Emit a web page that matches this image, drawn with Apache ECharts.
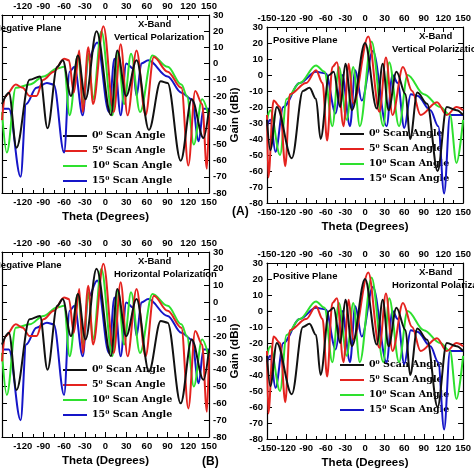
<!DOCTYPE html><html><head><meta charset="utf-8"><script src="https://cdn.jsdelivr.net/npm/echarts@6/dist/echarts.min.js"></script>
<style>html,body{margin:0;padding:0;background:#fff}#c{width:474px;height:474px}</style></head><body><div id="c"></div><script>
const names=['0⁰ Scan Angle','5⁰ Scan Angle','10⁰ Scan Angle','15⁰ Scan Angle'];
const colors=['#111','#e4231f','#2ee02e','#1515c8'];
const xTicks=[-150,-120,-90,-60,-30,0,30,60,90,120,150];
const negBlack=[[-150,-25],[-140,-18],[-129,-52],[-110,-10],[-95,-8],[-84,-40],[-70,-2],[-62,2],[-50,-20],[-40,5],[-29,-22],[-13,20],[8,-32],[17,8],[30,-20],[45,2],[63,-41],[80,-11],[90,-12],[109,-60],[125,-22],[142,-46],[150,-28]];
const negRed=[[-150,-35],[-145,-20],[-130,-13],[-120,-15],[-110,-20],[-100,-20],[-90,-10],[-75,-5],[-60,3],[-53,2],[-46,-18],[-38,8],[-33,-30],[-25,10],[-18,-25],[-3,23],[12,-30],[22,12],[32,-32],[45,8],[58,-32],[70,4],[90,-5],[110,-15],[120,-63],[130,-17],[140,-25],[147,-65],[150,-30]];
const negGreen=[[-150,-30],[-143,-55],[-130,-15],[-110,-13],[-90,-8],[-70,-3],[-60,-2],[-52,-32],[-40,5],[-32,-25],[-25,6],[-18,-22],[-6,20],[10,-32],[18,7],[27,-25],[37,6],[50,-30],[68,5],[90,-2],[110,-13],[118,-20],[128,-50],[140,-22],[150,-33]];
const negBlue=[[-150,-28],[-140,-28],[-123,-70],[-115,-25],[-100,-15],[-85,-12],[-75,-13],[-60,-55],[-52,-5],[-45,-2],[-33,-32],[-25,3],[-12,13],[5,-30],[13,3],[22,-32],[30,0],[40,-3],[45,-20],[52,0],[62,2],[90,-8],[110,-18],[125,-22],[135,-48],[142,-28],[150,-28]];
const posBlack=[[-150,-28],[-145,-47],[-135,-20],[-112,-52],[-95,-10],[-85,-8],[-75,-15],[-68,-40],[-55,0],[-48,2],[-38,-20],[-30,7],[-20,-22],[0,20],[18,-21],[27,7],[36,-22],[48,2],[62,-12],[69,-40],[80,-11],[95,-18],[111,-60],[125,-20],[140,-22],[150,-25]];
const posRed=[[-150,-25],[-148,-64],[-140,-16],[-130,-20],[-122,-57],[-115,-12],[-90,-5],[-75,3],[-65,-5],[-58,-41],[-50,5],[-43,8],[-33,-32],[-25,7],[-18,-18],[5,24],[22,-23],[32,11],[42,-25],[58,5],[72,-10],[85,-25],[110,-17],[125,-25],[140,-20],[150,-22]];
const posGreen=[[-150,-28],[-145,-22],[-130,-50],[-120,-15],[-100,-5],[-75,6],[-62,2],[-50,-32],[-40,5],[-28,-28],[-18,5],[-8,-32],[10,21],[28,-32],[37,8],[52,-32],[65,0],[90,-12],[115,-20],[130,-25],[140,-55],[150,-28]];
const posBlue=[[-150,-32],[-145,-28],[-137,-48],[-125,-20],[-100,-5],[-75,2],[-60,1],[-45,-24],[-35,0],[-23,-32],[-15,3],[-5,-16],[12,15],[33,-32],[42,0],[50,-5],[60,-33],[70,-12],[80,-13],[100,-22],[112,-32],[121,-74],[130,-25],[150,-25]];
const negSets=[negBlack,negRed,negGreen,negBlue], posSets=[posBlack,posRed,posGreen,posBlue];
const panels=[
 {g:{left:2,top:15,width:207,height:178},sets:negSets,yRight:true,plane:'Negative Plane',pol:'Vertical Polarization',leg:{left:58,top:126}},
 {g:{left:267,top:27,width:222,height:176},sets:posSets,yRight:false,plane:'Positive Plane',pol:'Vertical Polarization',leg:{left:335,top:124}},
 {g:{left:2,top:252,width:207,height:185},sets:negSets,yRight:true,plane:'Negative Plane',pol:'Horizontal Polarization',leg:{left:58,top:360}},
 {g:{left:267,top:263,width:222,height:176},sets:posSets,yRight:false,plane:'Positive Plane',pol:'Horizontal Polarization',leg:{left:335,top:355}}];
const lab={color:'#000',fontSize:9.5,fontWeight:'bold',fontFamily:'Liberation Sans'};
const grid=[],xAxis=[],yAxis=[],series=[],legend=[],graphic=[];
panels.forEach((p,i)=>{
 grid.push(p.g);
 const ax={type:'value',min:-150,max:150,interval:30,gridIndex:i,axisLine:{onZero:false,lineStyle:{color:'#000',width:1.2}},axisTick:{inside:true,lineStyle:{color:'#000'}},minorTick:{show:true,splitNumber:2},splitLine:{show:false},axisLabel:Object.assign({margin:4,showMinLabel:!p.yRight,showMaxLabel:true},lab)};
 xAxis.push(Object.assign({},ax,{position:'bottom',name:'Theta (Degrees)',nameLocation:'middle',nameGap:18,nameTextStyle:{fontSize:11.5,fontWeight:'bold',fontFamily:'Liberation Sans',color:'#000'}}));
 xAxis.push(Object.assign({},ax,{position:'top'}));
 const ya={type:'value',min:-80,max:30,interval:10,gridIndex:i,axisLine:{onZero:false,lineStyle:{color:'#000',width:1.2}},axisTick:{inside:true,lineStyle:{color:'#000'}},splitLine:{show:false},axisLabel:Object.assign({margin:4},lab)};
 yAxis.push(Object.assign({},ya,{position:p.yRight?'right':'left',name:p.yRight?'':'Gain (dBi)',nameLocation:'middle',nameGap:26,nameTextStyle:{fontSize:11.5,fontWeight:'bold',fontFamily:'Liberation Sans',color:'#000'}}));
 yAxis.push(Object.assign({},ya,{position:p.yRight?'left':'right',axisLabel:{show:false}}));
 p.sets.forEach((d,k)=>series.push({name:names[k],type:'line',xAxisIndex:2*i,yAxisIndex:2*i,data:d,smooth:0.35,smoothMonotone:'x',showSymbol:false,lineStyle:{width:2,color:colors[k]},itemStyle:{color:colors[k]},z:10-k}));
 legend.push({left:p.leg.left,top:p.leg.top,orient:'vertical',itemGap:5,icon:'rect',itemWidth:24,itemHeight:2,data:names,textStyle:{fontFamily:'DejaVu Serif',fontWeight:'bold',fontSize:9.5,color:'#000'}});
 const gx=p.g.left,gy=p.g.top;
 graphic.push({type:'text',left:gx+(i%2?6:-8),top:gy+8,style:{text:p.plane,font:'bold 9.5px Liberation Sans',fill:'#000'}});
 graphic.push({type:'text',left:gx+(i%2?152:136),top:gy+4,style:{text:'X-Band',font:'bold 9.5px Liberation Sans',fill:'#000'}});
 graphic.push({type:'text',left:gx+(i%2?125:112),top:gy+17,style:{text:p.pol,font:'bold 9.5px Liberation Sans',fill:'#000'}});
});
graphic.push({type:'text',left:232,top:206,style:{text:'(A)',font:'bold 12px Liberation Sans',fill:'#000'}});
graphic.push({type:'text',left:202,top:456,style:{text:'(B)',font:'bold 12px Liberation Sans',fill:'#000'}});
const ch=echarts.init(document.getElementById('c'));
ch.setOption({animation:false,backgroundColor:'#fff',grid,xAxis,yAxis,series,legend,graphic});
</script></body></html>
